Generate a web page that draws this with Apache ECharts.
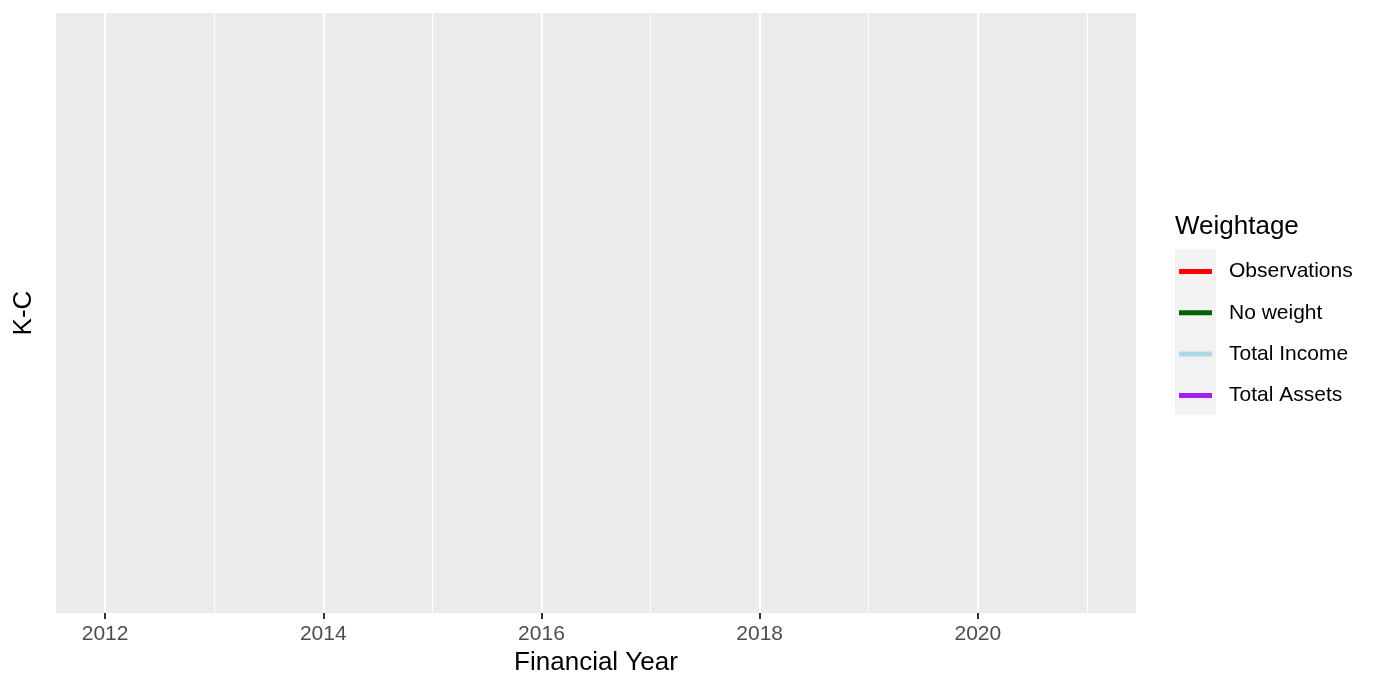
<!DOCTYPE html>
<html>
<head>
<meta charset="utf-8">
<script src="https://cdn.jsdelivr.net/npm/echarts@6/dist/echarts.min.js"></script>
<style>html,body{margin:0;padding:0;background:#fff}#c{width:1380px;height:690px}</style>
</head>
<body>
<div id="c"></div>
<script>
// Data (the reference panel shows no plotted values)
const seriesNames = ['Observations', 'No weight', 'Total Income', 'Total Assets'];
const seriesColors = ['#ff0000', '#006400', '#add8e6', '#a020f0'];
const observations = [];
const noWeight = [];
const totalIncome = [];
const totalAssets = [];
const majorYears = [2012, 2014, 2016, 2018, 2020];
const minorYears = [2013, 2015, 2017, 2019, 2021];
const xMin = 2011.55, xMax = 2021.45;

const chart = echarts.init(document.getElementById('c'));
const font = 'Liberation Sans, Arial, sans-serif';
const seriesData = [observations, noWeight, totalIncome, totalAssets];

const series = seriesNames.map((n, i) => ({
  name: n, type: 'line', data: seriesData[i], showSymbol: false,
  itemStyle: {color: seriesColors[i]}, lineStyle: {color: seriesColors[i], width: 5}
}));
series.push({
  name: '_grid', type: 'line', data: [], silent: true, z: 1,
  markLine: {
    silent: true, symbol: ['none', 'none'], label: {show: false}, animation: false,
    data: majorYears.map(v => ({xAxis: v, lineStyle: {color: '#ffffff', width: 2, type: 'solid'}}))
      .concat(minorYears.map(v => ({xAxis: v, lineStyle: {color: '#ffffff', width: 1, type: 'solid'}})))
  }
});

chart.setOption({
  animation: false,
  backgroundColor: '#ffffff',
  textStyle: {fontFamily: font},
  grid: {left: 56, right: 244, top: 13, bottom: 77, show: true, backgroundColor: '#ebebeb', borderWidth: 0},
  xAxis: {
    type: 'value', min: xMin, max: xMax,
    name: 'Financial Year', nameLocation: 'middle', nameGap: 36,
    nameTextStyle: {fontSize: 26, color: '#000000', fontFamily: font},
    axisLine: {show: false},
    axisTick: {show: true, customValues: majorYears, length: 6, lineStyle: {color: '#333333', width: 2}},
    axisLabel: {customValues: majorYears, fontSize: 21, color: '#4d4d4d', margin: 11, fontFamily: font,
      formatter: v => String(v)},
    splitLine: {show: false}
  },
  yAxis: {
    type: 'value', min: 0, max: 1,
    name: 'K-C', nameLocation: 'middle', nameGap: 19, nameRotate: 90,
    nameTextStyle: {fontSize: 26, color: '#000000', fontFamily: font},
    axisLine: {show: false}, axisTick: {show: false}, axisLabel: {show: false}, splitLine: {show: false}
  },
  title: {
    text: 'Weightage', left: 1175, top: 214, padding: 0,
    textStyle: {fontSize: 26, fontWeight: 'normal', color: '#000000', fontFamily: font}
  },
  legend: {
    data: seriesNames, orient: 'vertical', left: 1179, top: 261, padding: 0,
    icon: 'rect', itemWidth: 33, itemHeight: 5, itemGap: 20.3,
    textStyle: {fontSize: 21, color: '#000000', lineHeight: 20, padding: [0, 0, 0, 12], fontFamily: font},
    selectedMode: false
  },
  graphic: [{
    type: 'rect', left: 1175, top: 249, z: -1,
    shape: {width: 41, height: 166}, style: {fill: '#f2f2f2'}
  }],
  series: series
});
</script>
</body>
</html>
